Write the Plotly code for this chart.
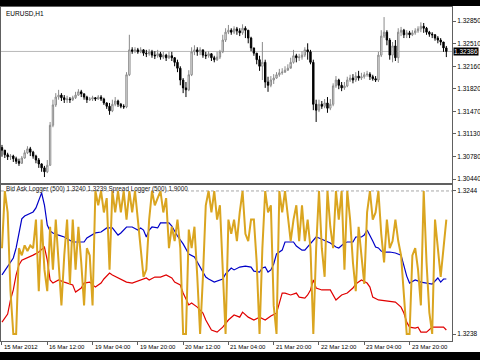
import plotly.graph_objects as go

# ---------------- data ----------------
first_open = 1.3092
closes = [1.3088, 1.3081, 1.3078, 1.3079, 1.3075, 1.3071, 1.3068, 1.3076, 1.3084, 1.3090,
          1.3085, 1.3079, 1.3073, 1.3067, 1.3061, 1.3055, 1.3065, 1.3126, 1.3157, 1.3169,
          1.3172, 1.3168, 1.3165, 1.3166, 1.3165, 1.3168, 1.3172, 1.3177, 1.3174, 1.3169,
          1.3165, 1.3166, 1.3168, 1.3166, 1.3169, 1.3166, 1.3160, 1.3155, 1.3148, 1.3158,
          1.3163, 1.3158, 1.3155, 1.3154, 1.3203, 1.3241, 1.3239, 1.3241, 1.3238, 1.3241,
          1.3236, 1.3235, 1.3238, 1.3233, 1.3232, 1.3235, 1.3230, 1.3233, 1.3229, 1.3232,
          1.3229, 1.3222, 1.3213, 1.3195, 1.3183, 1.3180, 1.3203, 1.3238, 1.3241, 1.3238,
          1.3241, 1.3233, 1.3232, 1.3235, 1.3229, 1.3226, 1.3230, 1.3238, 1.3256, 1.3268,
          1.3271, 1.3268, 1.3273, 1.3270, 1.3267, 1.3274, 1.3271, 1.3259, 1.3244, 1.3236,
          1.3226, 1.3216, 1.3222, 1.3192, 1.3187, 1.3195, 1.3198, 1.3203, 1.3206, 1.3207,
          1.3210, 1.3213, 1.3222, 1.3232, 1.3229, 1.3230, 1.3233, 1.3241, 1.3238, 1.3222,
          1.3158, 1.3149, 1.3158, 1.3155, 1.3160, 1.3152, 1.3158, 1.3186, 1.3195, 1.3187,
          1.3183, 1.3186, 1.3195, 1.3198, 1.3195, 1.3201, 1.3198, 1.3200, 1.3203, 1.3204,
          1.3200, 1.3197, 1.3195, 1.3233, 1.3262, 1.3268, 1.3256, 1.3233, 1.3247, 1.3229,
          1.3268, 1.3271, 1.3264, 1.3267, 1.3264, 1.3267, 1.3270, 1.3273, 1.3277, 1.3274,
          1.3268, 1.3265, 1.3264, 1.3259, 1.3256, 1.3253, 1.3244, 1.32386]
highs = [1.3096, 1.3088, 1.3084, 1.3082, 1.3081, 1.3078, 1.3075, 1.3079, 1.3088, 1.3094,
         1.3093, 1.3087, 1.3081, 1.3076, 1.3068, 1.3064, 1.3073, 1.3131, 1.3165, 1.3175,
         1.3180, 1.3175, 1.3172, 1.3171, 1.3169, 1.3171, 1.3177, 1.3181, 1.3180, 1.3174,
         1.3171, 1.3169, 1.3171, 1.3169, 1.3172, 1.3172, 1.3168, 1.3161, 1.3160, 1.3165,
         1.3169, 1.3165, 1.3160, 1.3158, 1.3207, 1.3264, 1.3245, 1.3245, 1.3244, 1.3245,
         1.3242, 1.3241, 1.3242, 1.3241, 1.3239, 1.3241, 1.3238, 1.3238, 1.3235, 1.3238,
         1.3238, 1.3230, 1.3226, 1.3216, 1.3198, 1.3192, 1.3210, 1.3245, 1.3248, 1.3245,
         1.3245, 1.3241, 1.3238, 1.3239, 1.3236, 1.3232, 1.3238, 1.3241, 1.3264, 1.3274,
         1.3279, 1.3274, 1.3277, 1.3276, 1.3274, 1.3280, 1.3277, 1.3271, 1.3261, 1.3244,
         1.3236, 1.3232, 1.3253, 1.3226, 1.3200, 1.3201, 1.3204, 1.3207, 1.3212, 1.3213,
         1.3216, 1.3219, 1.3229, 1.3241, 1.3235, 1.3235, 1.3239, 1.3245, 1.3251, 1.3241,
         1.3226, 1.3165, 1.3165, 1.3163, 1.3166, 1.3169, 1.3166, 1.3190, 1.3201, 1.3197,
         1.3192, 1.3192, 1.3200, 1.3203, 1.3204, 1.3207, 1.3209, 1.3206, 1.3207, 1.3209,
         1.3207, 1.3203, 1.3201, 1.3238, 1.3271, 1.3291, 1.3271, 1.3259, 1.3253, 1.3256,
         1.3274, 1.3276, 1.3273, 1.3271, 1.3270, 1.3271, 1.3274, 1.3277, 1.3283, 1.3282,
         1.3276, 1.3270, 1.3268, 1.3265, 1.3262, 1.3259, 1.3253, 1.3247]
lows = [1.3078, 1.3076, 1.3073, 1.3073, 1.3070, 1.3067, 1.3064, 1.3067, 1.3075, 1.3082,
        1.3079, 1.3075, 1.3068, 1.3061, 1.3055, 1.3047, 1.3053, 1.3064, 1.3123, 1.3154,
        1.3165, 1.3163, 1.3160, 1.3160, 1.3160, 1.3163, 1.3166, 1.3171, 1.3169, 1.3165,
        1.3160, 1.3163, 1.3163, 1.3163, 1.3165, 1.3163, 1.3157, 1.3151, 1.3142, 1.3146,
        1.3155, 1.3154, 1.3152, 1.3151, 1.3152, 1.3201, 1.3235, 1.3236, 1.3235, 1.3236,
        1.3232, 1.3230, 1.3232, 1.3229, 1.3227, 1.3229, 1.3226, 1.3227, 1.3224, 1.3227,
        1.3224, 1.3216, 1.3207, 1.3187, 1.3175, 1.3169, 1.3178, 1.3201, 1.3233, 1.3232,
        1.3233, 1.3229, 1.3227, 1.3229, 1.3224, 1.3222, 1.3224, 1.3227, 1.3236, 1.3253,
        1.3265, 1.3264, 1.3265, 1.3264, 1.3262, 1.3264, 1.3259, 1.3251, 1.3239, 1.3232,
        1.3219, 1.3209, 1.3195, 1.3183, 1.3177, 1.3184, 1.3189, 1.3197, 1.3200, 1.3203,
        1.3206, 1.3209, 1.3216, 1.3220, 1.3222, 1.3224, 1.3226, 1.3230, 1.3226, 1.3219,
        1.3149, 1.3131, 1.3146, 1.3151, 1.3152, 1.3145, 1.3149, 1.3155, 1.3183, 1.3181,
        1.3178, 1.3180, 1.3184, 1.3192, 1.3190, 1.3192, 1.3194, 1.3195, 1.3197, 1.3200,
        1.3195, 1.3194, 1.3192, 1.3192, 1.3230, 1.3259, 1.3248, 1.3226, 1.3222, 1.3224,
        1.3221, 1.3262, 1.3259, 1.3259, 1.3259, 1.3262, 1.3264, 1.3267, 1.3268, 1.3267,
        1.3264, 1.3261, 1.3259, 1.3255, 1.3251, 1.3248, 1.3238, 1.3230]
opens = [first_open] + closes[:-1]
bars = list(range(len(closes)))

price_ticks = [1.3285, 1.3251, 1.3216, 1.3182, 1.3147, 1.3113, 1.3078, 1.3044]
price_labels = ["1.32850", "1.32510", "1.32160", "1.31820", "1.31470", "1.31130", "1.30780", "1.30440"]

time_ticks = [0, 16, 32, 48, 64, 80, 96, 112, 128, 144]
time_labels = ["15 Mar 2012", "16 Mar 12:00", "19 Mar 04:00", "19 Mar 20:00", "20 Mar 12:00",
               "21 Mar 04:00", "21 Mar 20:00", "22 Mar 12:00", "23 Mar 04:00", "23 Mar 20:00"]

ask_idx = [0, 2, 4, 5, 6, 7, 8, 10, 11, 12, 13, 14, 15, 16, 17, 18, 20, 22, 25, 29, 30, 33, 35, 37, 39,
           41, 42, 44, 46, 48, 49, 50, 51, 52, 53, 55, 56, 59, 60, 62, 64, 66, 68, 70, 72, 73, 75, 78,
           79, 81, 82, 84, 86, 88, 89, 91, 92, 93, 94, 95, 96, 97, 98, 99, 100, 103, 104, 106, 107,
           109, 111, 112, 114, 116, 118, 119, 121, 122, 124, 125, 127, 128, 129, 130, 131, 132, 133,
           134, 135, 137, 139, 141, 142, 143, 144, 146, 148, 150, 152, 154, 155, 156, 157]
ask_val = [1.324048, 1.324081, 1.324119, 1.324161, 1.324228, 1.324283, 1.324295, 1.324308, 1.324312,
           1.324329, 1.324362, 1.324392, 1.324341, 1.324257, 1.324232, 1.324224, 1.324215, 1.324207,
           1.324186, 1.324186, 1.324203, 1.324224, 1.324228, 1.324245, 1.324245, 1.324215, 1.324224,
           1.324249, 1.324249, 1.324236, 1.324245, 1.324236, 1.324207, 1.324236, 1.324249, 1.324245,
           1.324266, 1.324266, 1.324253, 1.324211, 1.324178, 1.324136, 1.324123, 1.324081, 1.324039,
           1.324031, 1.324018, 1.324031, 1.324052, 1.324077, 1.324069, 1.324081, 1.324085, 1.324081,
           1.324064, 1.324060, 1.324077, 1.324081, 1.324060, 1.324069, 1.324094, 1.324136, 1.324144,
           1.324152, 1.324186, 1.324186, 1.324169, 1.324152, 1.324152, 1.324182, 1.324207, 1.324203,
           1.324194, 1.324182, 1.324165, 1.324161, 1.324182, 1.324186, 1.324186, 1.324207, 1.324207,
           1.324215, 1.324236, 1.324215, 1.324190, 1.324165, 1.324161, 1.324148, 1.324144, 1.324144,
           1.324140, 1.324131, 1.324090, 1.324043, 1.324014, 1.324027, 1.324018, 1.324014, 1.324010,
           1.324035, 1.324018, 1.324031, 1.324031]

bid_idx = [0, 2, 3, 4, 5, 6, 7, 9, 11, 13, 15, 16, 17, 18, 20, 22, 25, 26, 28, 29, 31, 33, 35, 36, 38,
           39, 41, 44, 46, 49, 51, 52, 54, 56, 58, 60, 61, 63, 64, 66, 67, 69, 71, 72, 73, 74, 76, 78,
           80, 82, 84, 85, 87, 89, 91, 93, 95, 97, 98, 99, 100, 102, 104, 105, 107, 108, 109, 110,
           111, 113, 116, 118, 120, 122, 124, 125, 127, 129, 130, 131, 133, 136, 139, 141, 142, 143,
           144, 146, 147, 148, 150, 152, 154, 156, 157]
bid_val = [1.323850, 1.323884, 1.323943, 1.323985, 1.324048, 1.324090, 1.324110, 1.324119, 1.324131,
           1.324144, 1.324165, 1.324110, 1.324027, 1.324014, 1.324027, 1.324018, 1.324006, 1.323976,
           1.323993, 1.324014, 1.324018, 1.323997, 1.324014, 1.324031, 1.324056, 1.324048, 1.324035,
           1.324018, 1.324014, 1.324027, 1.324035, 1.324027, 1.324039, 1.324039, 1.324048, 1.324035,
           1.324018, 1.324006, 1.323972, 1.323922, 1.323930, 1.323913, 1.323888, 1.323859, 1.323838,
           1.323817, 1.323808, 1.323829, 1.323859, 1.323880, 1.323871, 1.323892, 1.323871, 1.323859,
           1.323871, 1.323859, 1.323876, 1.323888, 1.323930, 1.323972, 1.323972, 1.323964, 1.323972,
           1.323955, 1.323951, 1.323964, 1.323985, 1.324027, 1.323993, 1.323985, 1.323985, 1.323943,
           1.323964, 1.323972, 1.323993, 1.324010, 1.324027, 1.324014, 1.323997, 1.323955, 1.323943,
           1.323938, 1.323934, 1.323913, 1.323888, 1.323850, 1.323829, 1.323825, 1.323829, 1.323808,
           1.323808, 1.323829, 1.323829, 1.323829, 1.323817]

spread = [1.6, 2.0, 1.85, 1.3, 1.0, 1.0, 1.6, 1.55, 1.62, 1.58,
          1.62, 1.6, 1.8, 1.3, 1.8, 1.45, 1.3, 1.75, 1.45, 1.8,
          1.5, 1.2, 1.55, 1.8, 1.35, 1.8, 1.45, 1.75, 1.5, 1.2,
          1.6, 1.55, 1.2, 2.0, 1.9, 2.0, 1.85, 1.95, 1.45, 2.0,
          1.85, 2.0, 1.85, 2.0, 1.8, 2.0, 1.85, 2.0, 1.8, 1.6,
          1.4, 1.45, 1.8, 2.0, 1.9, 1.95, 2.0, 1.85, 1.95, 1.6,
          1.75, 1.65, 1.8, 1.6, 1.0, 1.0, 1.73, 1.6, 1.75, 1.4,
          1.0, 1.4, 1.9, 2.0, 1.85, 2.0, 1.8, 1.9, 1.4, 1.0,
          1.8, 1.7, 1.8, 1.65, 1.85, 2.0, 1.7, 1.65, 1.8, 1.8,
          1.5, 1.0, 1.6, 2.0, 1.85, 1.9, 1.2, 1.0, 2.0, 1.85,
          2.0, 1.8, 1.65, 1.8, 1.9, 1.65, 1.9, 1.65, 1.8, 1.6,
          1.0, 1.6, 2.0, 1.6, 1.4, 2.0, 1.75, 1.6, 2.0, 1.8,
          2.0, 1.45, 2.0, 1.8, 1.5, 1.3, 1.75, 1.55, 1.35, 1.85,
          2.0, 1.8, 1.85, 2.0, 1.7, 1.5, 1.8, 1.6, 1.65, 1.8,
          1.65, 1.55, 1.25, 1.0, 1.0, 1.55, 1.6, 1.45, 1.2, 2.0,
          1.5, 1.15, 1.0, 1.8, 1.6, 1.4, 1.6, 1.8]

ind_ticks = [1.3238, 1.3244]
ind_labels = ["1.3238", "1.3244"]
ind_level = 1.3244
symbol_title = "EURUSD,H1"
ind_title = "Bid Ask Logger (500) 1.3240 1.3239 Spread Logger (500) 1.9000"

# ---------------- figure ----------------
W, H = 480, 360
FONT = "Liberation Sans, Arial, sans-serif"
FRAME = "#606060"

fig = go.Figure()
fig.add_trace(go.Candlestick(
    x=bars, open=opens, high=highs, low=lows, close=closes,
    xaxis="x", yaxis="y", whiskerwidth=0,
    increasing=dict(line=dict(color="#8a8a8a", width=1), fillcolor="white"),
    decreasing=dict(line=dict(color="black", width=1), fillcolor="black"),
    showlegend=False, hoverinfo="skip"))
fig.add_trace(go.Scatter(x=ask_idx, y=ask_val, xaxis="x2", yaxis="y2", mode="lines",
                         line=dict(color="#0000c8", width=1.2), showlegend=False, hoverinfo="skip"))
fig.add_trace(go.Scatter(x=bid_idx, y=bid_val, xaxis="x2", yaxis="y2", mode="lines",
                         line=dict(color="#e00000", width=1.2), showlegend=False, hoverinfo="skip"))
fig.add_trace(go.Scatter(x=bars, y=spread, xaxis="x2", yaxis="y3", mode="lines",
                         line=dict(color="#daa520", width=2), showlegend=False, hoverinfo="skip"))

xdom = [1 / W, 452 / W]
xr = [-0.35, 159.0]
axis_common = dict(showgrid=False, zeroline=False, showline=True, mirror=True,
                   linecolor=FRAME, linewidth=1, fixedrange=True)

fig.update_layout(
    width=W, height=H, margin=dict(l=0, r=0, t=0, b=0),
    paper_bgcolor="white", plot_bgcolor="white",
    font=dict(family=FONT, size=6.5, color="black"),
    xaxis=dict(domain=xdom, range=xr, anchor="y", showticklabels=False, ticks="",
               rangeslider=dict(visible=False), **axis_common),
    yaxis=dict(domain=[1 - 183 / H, 1 - 7 / H], range=[1.30379, 1.33064], anchor="x",
               side="right", tickmode="array", tickvals=price_ticks, ticktext=price_labels,
               ticks="outside", ticklen=3, tickcolor=FRAME, tickfont=dict(size=6.5),
               automargin=False, **axis_common),
    xaxis2=dict(domain=xdom, range=xr, anchor="y2", tickmode="array", tickvals=time_ticks,
                ticktext=[""] * len(time_ticks), ticks="outside", ticklen=3, tickcolor=FRAME,
                automargin=False, **axis_common),
    yaxis2=dict(domain=[1 - 341 / H, 1 - 185 / H], range=[1.323771, 1.324425], anchor="x2",
                side="right", tickmode="array", tickvals=ind_ticks, ticktext=ind_labels,
                ticks="outside", ticklen=3, tickcolor=FRAME, tickfont=dict(size=6.5),
                automargin=False, **axis_common),
    yaxis3=dict(overlaying="y2", anchor="x2", range=[0.951, 2.042], visible=False, fixedrange=True),
)

shapes = [
    dict(type="rect", xref="paper", yref="paper", x0=0, x1=1, y0=1 - 6 / H, y1=1,
         fillcolor="black", line=dict(width=0)),
    dict(type="rect", xref="paper", yref="paper", x0=0, x1=1, y0=0, y1=1 - 352 / H,
         fillcolor="black", line=dict(width=0)),
    dict(type="line", xref="x domain", yref="y", x0=0, x1=1, y0=closes[-1], y1=closes[-1],
         line=dict(color="#b8b8b8", width=1), layer="below"),
    dict(type="line", xref="x2 domain", yref="y2", x0=0, x1=1, y0=ind_level, y1=ind_level,
         line=dict(color="#a8a8a8", width=1, dash="3px,2px"), layer="below"),
]
fig.update_layout(shapes=shapes)

ann = [
    dict(text=symbol_title, xref="paper", yref="paper", x=4 / W, y=1 - 13.5 / H,
         xanchor="left", yanchor="middle", showarrow=False, font=dict(size=6.5, color="black")),
    dict(text=ind_title, xref="paper", yref="paper", x=4 / W, y=1 - 188.5 / H,
         xanchor="left", yanchor="middle", showarrow=False, font=dict(size=6.3, color="#202020")),
    dict(text="%.5f" % closes[-1], xref="paper", yref="y", x=453 / W, y=closes[-1],
         xanchor="left", yanchor="middle", showarrow=False, bgcolor="black", borderpad=0,
         font=dict(size=6.5, color="white")),
]
for t, lab in zip(time_ticks, time_labels):
    ann.append(dict(text=lab, xref="x2", yref="paper", x=t, y=1 - 347 / H, xanchor="left",
                    yanchor="middle", showarrow=False, xshift=0, font=dict(size=6, color="black")))
fig.update_layout(annotations=ann)

fig.write_html("out.html")
